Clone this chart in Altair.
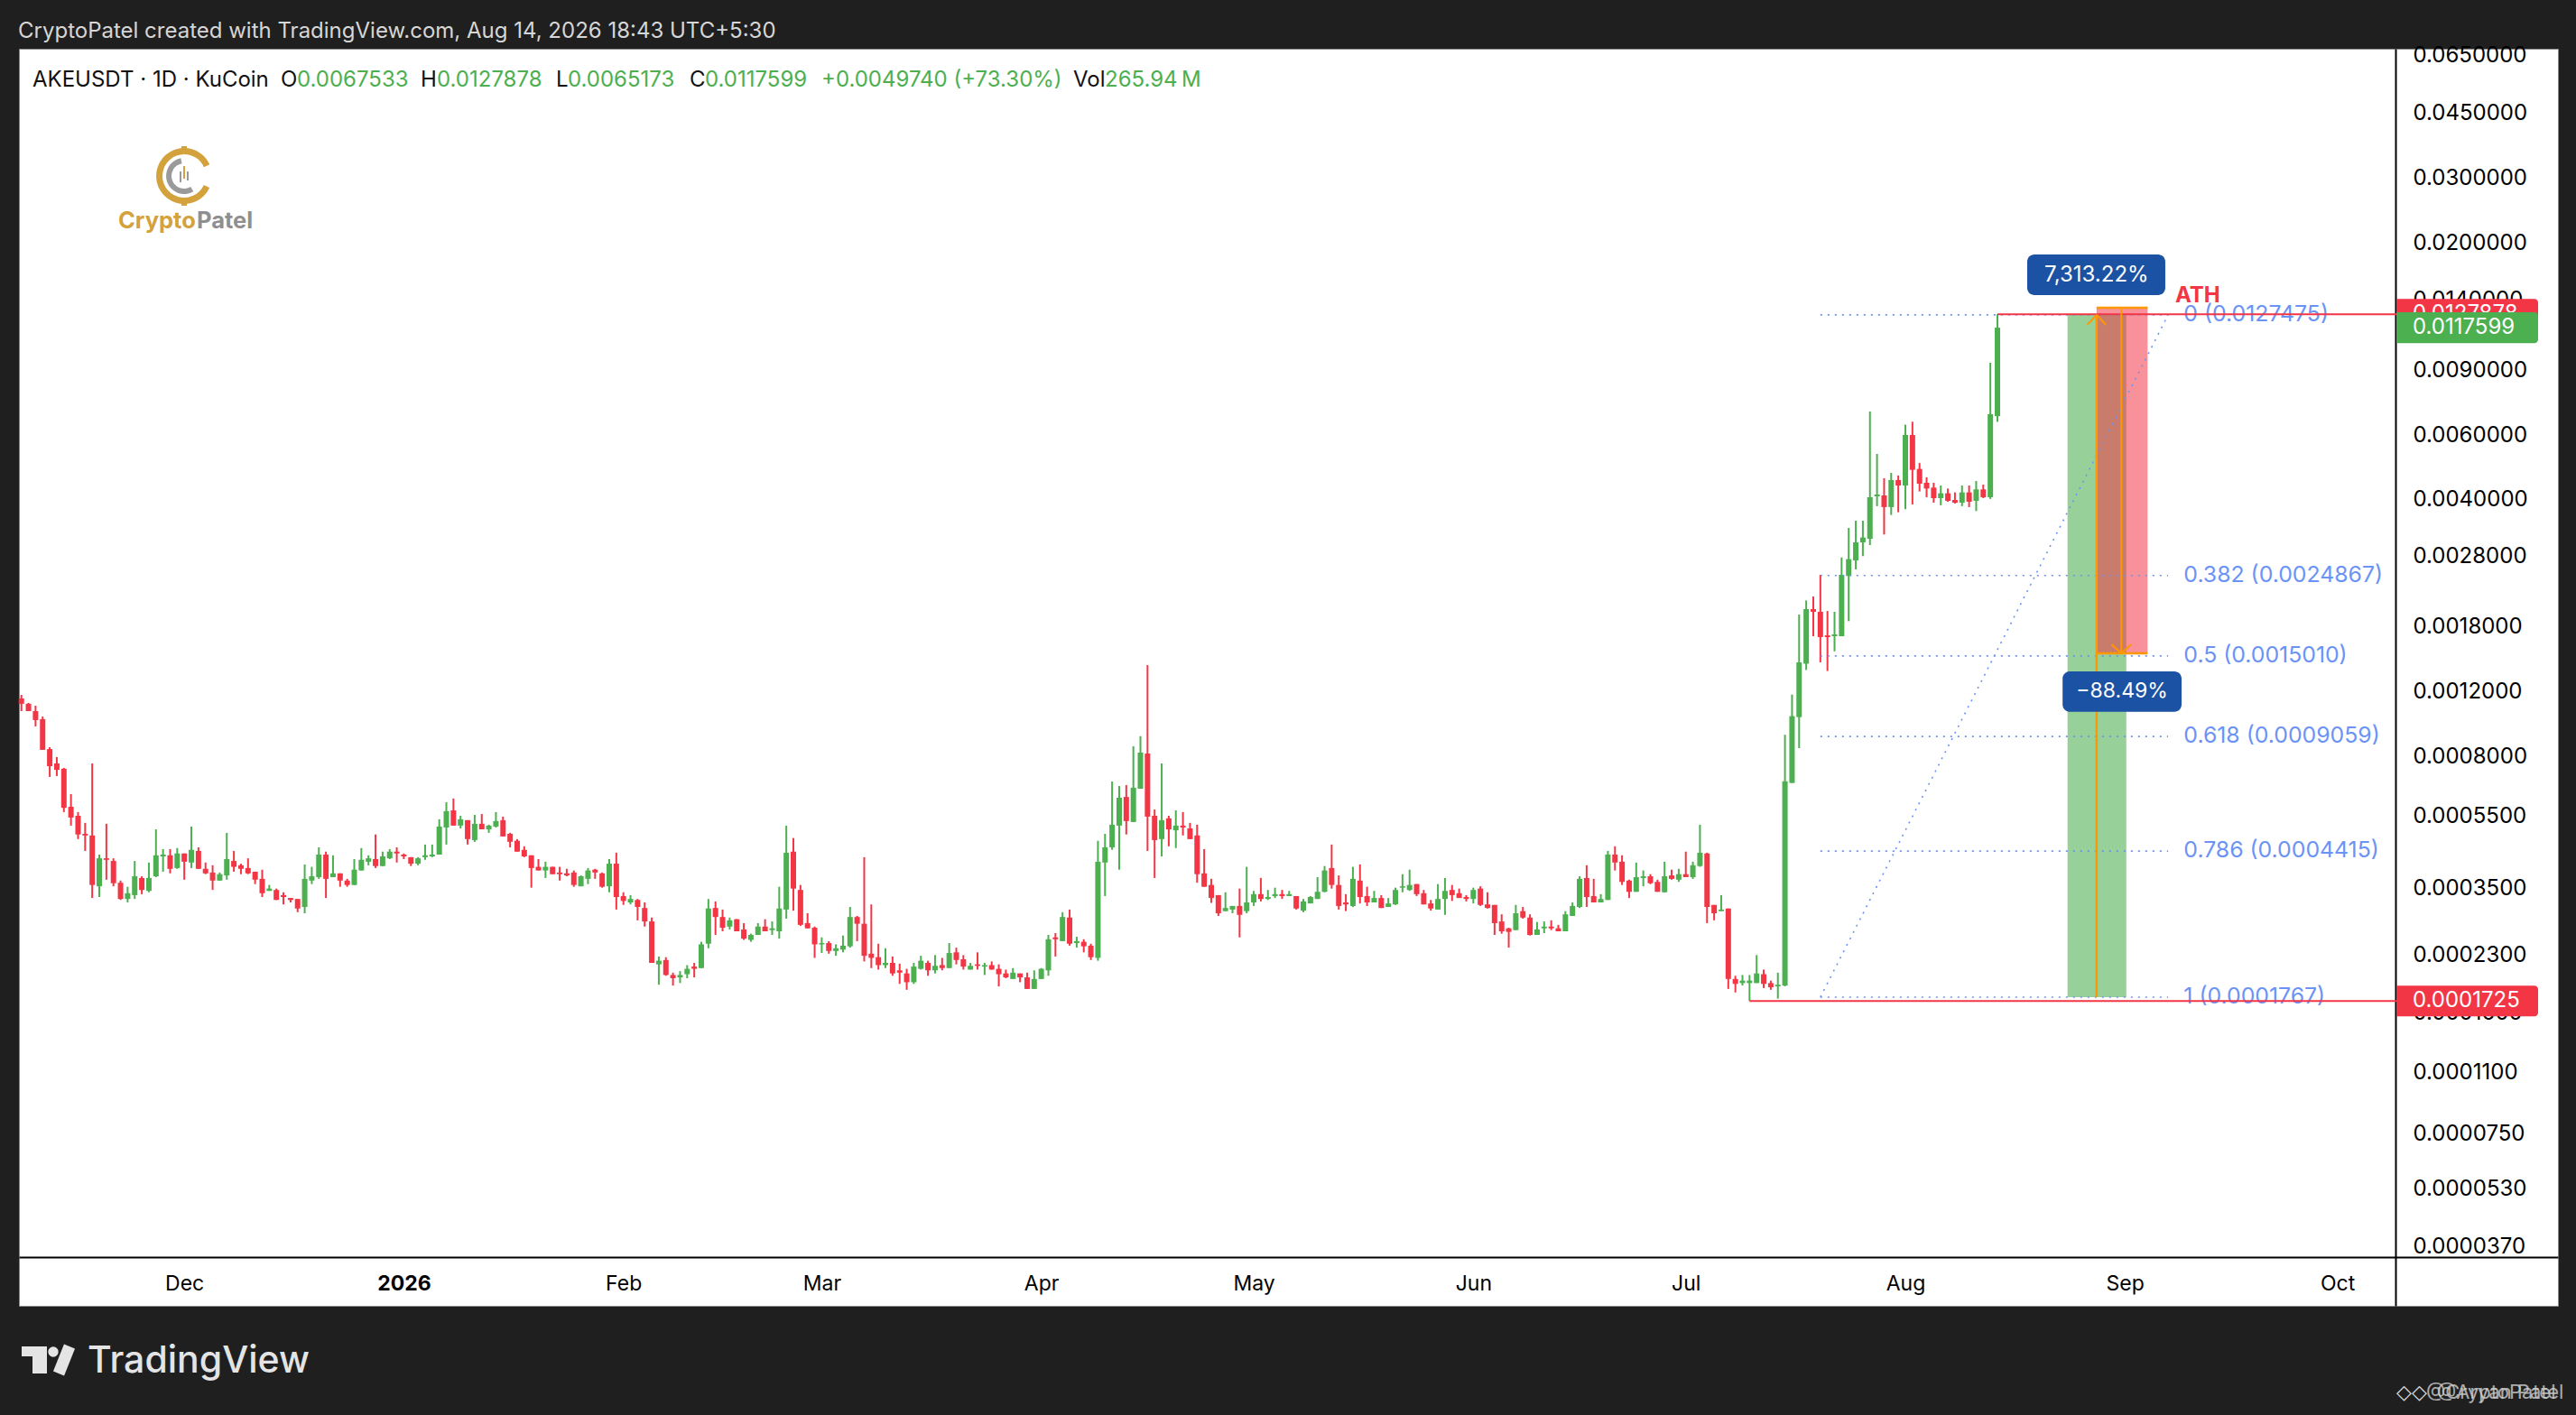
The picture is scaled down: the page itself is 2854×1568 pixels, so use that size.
import altair as alt
import pandas as pd

# ---------- values (micro-USDT, 1 = 0.000001) ----------
highs = [1176,1118,1099,1027,847,796,744,631,564,527,
765,432,524,422,367,353,415,377,411,506,
447,447,450,435,515,452,411,404,386,495,
442,408,422,388,393,357,349,341,329,327,
406,400,452,440,430,384,371,420,450,430,
490,440,447,452,435,425,425,460,460,539,
600,614,551,536,554,557,521,564,548,495,
476,455,430,420,413,400,400,395,391,379,
397,395,386,420,437,341,335,327,320,291,
228,227,206,208,216,219,250,327,322,306,
291,288,281,263,281,288,284,353,518,479,
357,299,275,257,251,246,260,311,294,425,
316,247,240,228,218,211,219,229,222,230,
226,248,241,230,219,234,219,221,217,210,
212,205,206,209,212,261,264,301,306,258,
254,247,471,492,683,664,668,852,908,1417,
573,765,551,570,564,527,521,447,371,335,
341,313,349,400,344,373,346,351,346,344,
333,327,333,375,402,460,379,337,400,406,
353,344,335,329,351,382,393,359,346,325,
359,373,357,349,335,351,354,341,315,297,
273,315,311,297,283,284,286,278,303,320,
377,404,371,337,442,455,430,369,411,391,
382,369,413,393,395,440,413,521,437,315,
335,308,202,203,203,230,210,196,206,916,
1178,1946,2126,2179,2497,1990,1980,2785,3351,3505,
3505,6953,5330,4576,4733,4654,6400,6521,5033,4602,
4447,4372,4290,4186,4372,4372,4497,4397,9438,12788]

body_tops = [1150,1112,1062,1010,837,765,740,583,551,492,
487,422,422,415,362,339,377,373,373,430,
432,430,435,435,445,442,395,386,382,420,
415,404,397,388,371,349,346,335,329,327,
371,377,432,432,384,384,367,393,418,422,
420,427,440,440,432,425,422,430,432,515,
567,570,539,536,524,524,518,533,536,492,
471,445,430,400,400,400,386,384,386,377,
391,393,384,408,408,333,327,325,309,284,
222,223,203,203,211,214,246,308,309,292,
286,288,270,261,275,275,272,308,437,440,
346,281,273,248,248,240,244,292,292,280,
232,227,219,219,209,205,214,222,219,215,
216,233,234,224,215,217,216,216,211,205,
206,205,200,198,211,254,257,292,291,251,
250,244,413,452,521,617,620,657,819,814,
551,536,542,518,518,509,487,384,357,335,
309,313,313,320,337,337,331,337,337,337,
333,322,331,342,391,397,357,320,371,367,
333,329,329,318,346,354,357,359,339,318,
327,344,346,339,331,346,349,316,315,284,
272,299,303,291,270,275,275,272,297,313,
371,373,333,327,432,432,413,367,375,377,
377,364,377,379,382,382,404,437,435,315,
306,308,198,196,196,205,204,193,191,684,
1029,1442,2013,2013,1980,1708,1718,2497,2754,3060,
3155,4062,4131,4108,4524,4524,6002,6002,4850,4447,
4314,4162,4162,3993,4186,4186,4266,4266,6835,11760]

body_bottoms = [1112,1062,1004,833,752,735,579,545,490,487,
357,354,418,361,327,327,335,346,344,377,
427,395,397,413,411,395,384,367,367,379,
400,395,384,369,339,344,325,331,325,308,
311,367,375,371,375,367,357,357,391,413,
402,402,422,435,427,408,408,425,427,432,
512,518,518,476,473,506,506,515,484,468,
440,427,397,391,391,382,382,379,357,354,
371,386,353,354,331,323,320,311,284,219,
217,203,199,200,204,211,212,247,292,273,
275,267,255,253,261,267,269,267,306,349,
278,272,246,246,236,236,238,243,280,229,
226,216,216,205,206,194,194,211,209,209,
212,212,223,214,210,215,214,210,204,200,
198,200,186,186,198,209,254,251,247,248,
243,227,226,411,452,518,533,530,653,548,
473,476,506,503,512,476,382,353,329,299,
303,306,296,303,320,327,327,333,333,333,
308,304,318,327,342,357,313,316,313,331,
320,320,309,311,316,351,346,337,316,308,
306,327,335,329,327,327,315,309,281,267,
266,269,291,261,261,272,272,267,267,294,
311,331,320,320,325,411,364,342,342,373,
361,342,341,371,369,375,375,402,311,299,
303,198,192,193,193,193,192,188,189,190,
677,1023,1430,1980,1689,1689,1699,1699,2478,2733,
3060,3131,4085,3818,3818,4372,4372,4823,4422,4290,
4039,4039,3971,3926,3926,3948,3971,4062,4062,6753]

lows = [1062,1062,965,833,703,707,564,518,476,442,
329,331,369,354,325,320,327,337,341,375,
388,384,395,369,397,395,382,346,367,369,
388,382,382,359,331,344,325,316,320,301,
299,359,371,329,375,353,353,357,391,404,
397,402,420,411,420,402,404,418,425,432,
460,518,509,460,468,506,495,512,484,452,
440,425,351,391,373,382,367,377,353,354,
359,371,351,341,306,315,316,286,275,219,
191,202,190,193,199,200,212,240,261,267,
270,267,253,250,261,267,261,255,289,304,
276,272,226,233,232,229,234,241,251,221,
212,210,212,202,192,185,192,210,202,205,
209,212,217,210,210,210,203,210,189,199,
198,194,186,186,198,202,228,251,244,241,
234,223,222,333,445,393,490,530,653,442,
373,427,455,450,487,476,362,353,319,294,
303,299,257,299,313,322,325,329,327,333,
306,301,318,327,341,349,306,303,311,318,
313,320,309,311,315,341,344,333,316,304,
306,296,323,329,322,318,313,308,261,263,
241,269,289,260,261,264,269,267,267,294,
309,311,320,320,325,391,357,329,342,354,
359,342,341,369,364,375,371,400,281,286,
303,186,182,190,172.5,193,187,185,175,189,
677,842,1375,1699,1442,1366,1545,1699,1867,2583,
2807,3008,3840,3215,3634,3696,3768,3883,4211,4062,
3926,3862,3948,3905,3840,3818,3724,4039,4017,6517]

direction = ("RRRRRRRRRR" "RGRRRGGRGG" "GRGRGRRRGG" "RRRRRGRRRR" "GGGRGRRGGG"
             "RGGRRRGGGG" "GRGRGRGGRR" "RRRRGRRRRG" "GRRGRRGRRR" "GRRGGRGGRR"
             "GRRGGRGGGR" "RRRGRGGGRR" "RRGRRRGGRG" "RGRRGRGRRR" "GRRGGGRGRG"
             "RRGGGGRGGR" "RGRGRRRRRR" "GGRGGRGGRG" "RGGGGRRRGR" "RGRGGGGRRR"
             "GGRRRGRRRR" "RGRRGGRRGG" "GRRGGRRRGG" "RRGRGRGGRR" "GRRGGGRRGG"
             "GGGRRRGGGG" "GGGRGRGRRR" "RGRRGRGRGG")

price_ticks = [0.065, 0.045, 0.03, 0.02, 0.014, 0.009, 0.006, 0.004, 0.0028, 0.0018,
               0.0012, 0.0008, 0.00055, 0.00035, 0.00023, 0.00016, 0.00011,
               0.000075, 0.000053, 0.000037]
month_ticks = ["2025-12-01", "2026-01-01", "2026-02-01", "2026-03-01", "2026-04-01", "2026-05-01",
               "2026-06-01", "2026-07-01", "2026-08-01", "2026-09-01", "2026-10-01"]

fib_levels = ["0", "0.382", "0.5", "0.618", "0.786", "1"]
fib_prices = [0.0127475, 0.0024867, 0.0015010, 0.0009059, 0.0004415, 0.0001767]

ath_price = 0.0127878
atl_price = 0.0001725
last_price = 0.0117599

assert len(highs) == len(lows) == len(body_tops) == len(body_bottoms) == len(direction) == 280

# ---------- palette ----------
GREEN, RED, BLUE, ORANGE, NAVY = "#4caf50", "#f23645", "#6b93f5", "#ff9800", "#1b52a3"
DARK = "#1f1f1f"
FONT = "Inter"

# ---------- scales ----------
BASE_MS = int(pd.Timestamp("2025-11-08", tz="UTC").timestamp() * 1000)
DAY = 86400000


def day(i):
    return BASE_MS + i * DAY


x_scale = alt.Scale(type="utc", domain=[day(-0.344), day(279 + 79.14)], padding=0)
y_scale = alt.Scale(type="log", domain=[0.0000255, 0.06763], nice=False, zero=False)

x_axis = alt.Axis(
    values=[int(pd.Timestamp(m, tz="UTC").timestamp() * 1000) for m in month_ticks],
    labelExpr="utcmonth(datum.value)==0 ? '2026' : utcFormat(datum.value,'%b')",
    labelFontWeight={"condition": {"test": "utcmonth(datum.value)==0", "value": "bold"}, "value": "normal"},
    orient="bottom", offset=-54, grid=False, ticks=False, title=None,
    domainColor="black", domainWidth=2, labelColor="black", labelFont=FONT, labelFontSize=23,
    labelBaseline="middle", labelPadding=29, labelOverlap=False, labelFlush=False, labelBound=False,
)
y_axis = alt.Axis(
    values=price_ticks, format=".7f", orient="right", offset=-180, grid=False, ticks=False, title=None,
    domainColor="black", domainWidth=2, labelColor="black", labelFont=FONT, labelFontSize=24,
    labelAlign="left", labelBaseline="middle", labelPadding=19, labelOverlap=False,
    labelFlush=False, labelBound=False,
)


def X(f):
    return alt.X(f, type="temporal", scale=x_scale, axis=x_axis)


def Y(f):
    return alt.Y(f, type="quantitative", scale=y_scale, axis=y_axis)


def PX(x):
    return alt.value(x - 21)


def PY(y):
    return alt.value(y - 54)


def frame(**cols):
    return alt.Data(values=pd.DataFrame(cols).to_dict("records"))


# ---------- candles ----------
candles = pd.DataFrame({
    "t": [day(i) for i in range(280)],
    "high": [v / 1e6 for v in highs],
    "low": [v / 1e6 for v in lows],
    "top": [v / 1e6 for v in body_tops],
    "bottom": [v / 1e6 for v in body_bottoms],
    "up": [c == "G" for c in direction],
})
candle_color = alt.condition("datum.up", alt.value(GREEN), alt.value(RED))
wicks = alt.Chart(alt.Data(values=candles.to_dict("records"))).mark_rule(strokeWidth=2).encode(
    x=X("t"), y=Y("high"), y2="low:Q", color=candle_color)
bodies = alt.Chart(alt.Data(values=candles.to_dict("records"))).mark_bar(size=6).encode(
    x=X("t"), y=Y("top"), y2="bottom:Q", color=candle_color)


# ---------- drawings in data space ----------
def box(i0, i1, p0, p1, color, **kw):
    return alt.Chart(frame(a=[day(i0)], b=[day(i1)], p=[p0], q=[p1])).mark_rect(color=color, **kw).encode(
        x=X("a"), x2="b", y=Y("p"), y2="q:Q")


def seg(i0, i1, p0, p1, color, width, **kw):
    return alt.Chart(frame(a=[day(i0)], b=[day(i1)], p=[p0], q=[p1])).mark_rule(
        color=color, strokeWidth=width, **kw).encode(x=X("a"), x2="b", y=Y("p"), y2="q:Q")


def label(i, p, s, color, size, **kw):
    return alt.Chart(frame(a=[day(i)], p=[p], s=[s])).mark_text(
        color=color, fontSize=size, font=FONT, baseline="middle", **kw).encode(x=X("a"), y=Y("p"), text="s:N")


long_box = box(288.9, 297.2, fib_prices[0], fib_prices[-1], GREEN, opacity=0.58)
short_box = box(293.0, 300.2, 0.01333, 0.001526, RED, opacity=0.55)

fib_df = frame(a=[day(254)] * 6, b=[day(303.1)] * 6, p=fib_prices,
               s=[f"{lv} ({pr:.7f})" for lv, pr in zip(fib_levels, fib_prices)],
               c=[day(305.3)] * 6)
fib_lines = alt.Chart(fib_df).mark_rule(color=BLUE, strokeWidth=1.6, strokeDash=[2, 6]).encode(
    x=X("a"), x2="b", y=Y("p"))
fib_text = alt.Chart(fib_df).mark_text(color=BLUE, fontSize=24.8, font=FONT, align="left", baseline="middle").encode(
    x=X("c"), y=Y("p"), text="s:N")
trend = seg(254, 303.1, fib_prices[-1], fib_prices[0], BLUE, 1.6, strokeDash=[2, 6])

ath_line = seg(279, 335.35, ath_price, ath_price, RED, 2)
atl_line = seg(244, 335.35, atl_price, atl_price, RED, 2)
ath_text = label(304.1, 0.01435, "ATH", RED, 24, align="left", fontWeight="bold")

orange = [
    seg(293, 293, fib_prices[-1], fib_prices[0], ORANGE, 2.5),
    seg(293, 291.7, fib_prices[0], fib_prices[0] * 0.94, ORANGE, 2),
    seg(293, 294.3, fib_prices[0], fib_prices[0] * 0.94, ORANGE, 2),
    seg(296.5, 296.5, 0.01333, 0.001526, ORANGE, 2),
    seg(296.5, 295.1, 0.001526, 0.001526 * 1.058, ORANGE, 2),
    seg(296.5, 297.9, 0.001526, 0.001526 * 1.058, ORANGE, 2),
    seg(293, 300.2, 0.01333, 0.01333, ORANGE, 2.5),
    seg(293, 300.2, 0.001526, 0.001526, ORANGE, 2.5),
]

up_box = box(283.2, 302.7, 0.01861, 0.01443, NAVY, cornerRadius=8)
up_text = label(293.0, 0.01634, "7,313.22%", "white", 24, align="center")
dn_box = box(288.2, 305.0, 0.001363, 0.001058, NAVY, cornerRadius=8)
dn_text = label(296.6, 0.0012, "\u221288.49%", "white", 23, align="center")


# ---------- price tags on the axis ----------
def tag(price, color):
    s = f"{price:.7f}"
    rect = alt.Chart(frame(p=[price * 1.101], q=[price / 1.101])).mark_rect(
        color=color, cornerRadiusTopRight=4, cornerRadiusBottomRight=4).encode(
        x=PX(2655), x2=PX(2812), y=Y("p"), y2="q:Q")
    txt = alt.Chart(frame(p=[price], s=[s])).mark_text(
        color="white", fontSize=24, font=FONT, align="left", baseline="middle").encode(
        x=PX(2673), y=Y("p"), text="s:N")
    return [rect, txt]


# ---------- texts around the chart ----------
def txt(s, x, y, color, size, weight="normal", align="left", font=FONT, opacity=1):
    return alt.Chart(frame(s=[s])).mark_text(
        color=color, fontSize=size, fontWeight=weight, align=align, baseline="middle", font=font, opacity=opacity
    ).encode(x=PX(x), y=PY(y), text="s:N")


header = [
    txt("CryptoPatel created with TradingView.com, Aug 14, 2026 18:43 UTC+5:30", 20, 35, "#d6d6d6", 24),
    txt("AKEUSDT \u00b7 1D \u00b7 KuCoin", 36, 89, "#111111", 24),
    txt("O", 311, 89, "#111111", 24), txt("0.0067533", 329, 89, GREEN, 24),
    txt("H", 466, 89, "#111111", 24), txt("0.0127878", 484, 89, GREEN, 24),
    txt("L", 616, 89, "#111111", 24), txt("0.0065173", 629, 89, GREEN, 24),
    txt("C", 764, 89, "#111111", 24), txt("0.0117599", 781, 89, GREEN, 24),
    txt("+0.0049740 (+73.30%)", 910, 89, GREEN, 24),
    txt("Vol", 1189, 89, "#111111", 24), txt("265.94\u2009M", 1224, 89, GREEN, 24),
]


def arc(r0, r1, t0, t1, color):
    return alt.Chart(frame(s=["a"])).mark_arc(
        radius=r1, radius2=r0, theta=t0, theta2=t1, color=color).encode(x=PX(204), y=PY(195))


def block(x0, x1, y0, y1, color):
    return alt.Chart(frame(s=["a"])).mark_rect(color=color).encode(x=PX(x0), x2=PX(x1), y=PY(y0), y2=PY(y1))


GOLD = "#d4a23c"
logo = [
    arc(24, 31, 0.0, 1.15, GOLD), arc(24, 31, 2.0, 6.28, GOLD),
    arc(14, 20, 2.6, 6.1, "#9a9a9a"),
    block(201, 207, 162, 167, GOLD), block(201, 207, 223, 228, GOLD),
    block(199, 201, 190, 202, "#9a9a9a"), block(203, 205, 184, 198, GOLD), block(207, 209, 190, 200, "#9a9a9a"),
    txt("Crypto", 131, 245, GOLD, 25.5, "bold"),
    txt("Patel", 218, 245, "#8f8f8f", 25.5, "bold"),
]

LOGO_W = "#e4e4e4"
footer = [
    block(24, 52, 1492, 1503, LOGO_W), block(36, 52, 1492, 1522, LOGO_W),
    alt.Chart(frame(s=["a"])).mark_circle(color=LOGO_W, opacity=1, size=130).encode(x=PX(59), y=PY(1498)),
    alt.Chart(frame(s=["a"])).mark_rule(color=LOGO_W, strokeWidth=13).encode(
        x=PX(77), x2=PX(65), y=PY(1492), y2=PY(1522)),
    txt("TradingView", 97, 1509, LOGO_W, 41, 500),
    txt("\u25c7\u25c7", 2655, 1543, "#d8d8d8", 22, font="DejaVu Sans"),
    txt("@CryptoPatel", 2688, 1543, "#cfcfcf", 22, opacity=0.8),
    txt("@Aryan Patel", 2700, 1543, "#cfcfcf", 22, opacity=0.8),
]

layers = [wicks, bodies, long_box, short_box, fib_lines, trend, fib_text, ath_line, atl_line, ath_text]
layers += orange + [up_box, up_text, dn_box, dn_text]
layers += tag(ath_price, RED) + tag(last_price, GREEN) + tag(atl_price, RED)
layers += header + logo + footer

chart = alt.layer(*layers).properties(
    width=2813, height=1393, background=DARK, autosize="none",
    padding={"left": 21, "top": 54, "right": 20, "bottom": 121},
).configure_view(fill="white", stroke="#8a8a8a", strokeWidth=1)

chart.save("out.html", embed_options={
    "renderer": "svg", "actions": False,
    "defaultStyle": "html,body{margin:0;padding:0;overflow:hidden;background:#1f1f1f}",
})
